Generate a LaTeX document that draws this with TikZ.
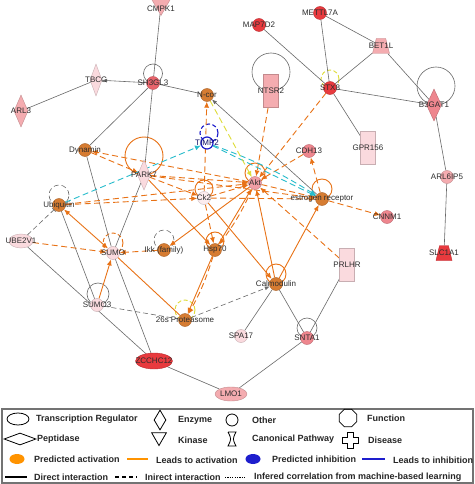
\documentclass[tikz,border=0pt]{standalone}
\usepackage{fontspec}
\setmainfont{Liberation Sans}
\usepackage{tikz}
\usetikzlibrary{arrows.meta, shapes.geometric, backgrounds, calc}
\definecolor{rednode}{RGB}{232,58,62}
\definecolor{coralnode}{RGB}{232,100,108}
\definecolor{pinknode}{RGB}{238,134,142}
\definecolor{rosenode}{RGB}{244,172,176}
\definecolor{palenode}{RGB}{250,218,222}
\definecolor{orgnode}{RGB}{214,124,50}
\definecolor{orgline}{RGB}{232,114,22}
\definecolor{grayline}{RGB}{105,105,105}
\definecolor{cyanline}{RGB}{38,188,204}
\definecolor{yelline}{RGB}{222,220,56}
\definecolor{blueline}{RGB}{30,30,205}
\definecolor{labtext}{RGB}{45,45,45}
\definecolor{legframe}{RGB}{115,115,115}

\begin{document}
\begin{tikzpicture}[
  x=1pt, y=-1pt,
  genelab/.style={font=\fontsize{8}{9}\selectfont, text=labtext, inner sep=0pt},
  legtext/.style={font=\bfseries\fontsize{9}{10}\selectfont, text=black!85,
                  anchor=west, inner sep=0pt},
  gene/.style={circle, fill=#1, draw=#1!80!black, line width=0.4pt,
               minimum size=13pt, inner sep=0pt},
  enzyme/.style={diamond, fill=#1, draw=#1!80!black, line width=0.4pt,
                 minimum width=14pt, minimum height=32pt, inner sep=0pt},
  gpcr/.style={rectangle, fill=#1, draw=#1!80!black, line width=0.4pt,
               minimum width=15pt, minimum height=33pt, inner sep=0pt},
  transporter/.style={trapezium, trapezium left angle=68,
                      trapezium right angle=68, trapezium stretches=true,
                      fill=#1, draw=#1!80!black,
                      line width=0.4pt, minimum width=17pt,
                      minimum height=15pt, inner sep=1pt},
  kinase/.style={regular polygon, regular polygon sides=3,
                 shape border rotate=180, fill=#1, draw=#1!80!black,
                 line width=0.4pt, minimum size=23pt, inner sep=0pt},
  treg/.style={ellipse, fill=#1, draw=#1!80!black, line width=0.4pt,
               minimum height=14pt, inner sep=0pt},
  direct/.style={draw=grayline, line width=0.6pt},
  directarr/.style={direct, -{Latex[length=5pt, width=4pt]}},
  indirect/.style={direct, dash pattern=on 5pt off 3pt},
  act/.style={draw=orgline, line width=0.9pt, -{Latex[length=6pt, width=5pt]}},
  actdash/.style={act, dash pattern=on 6pt off 3.5pt},
  corr/.style={draw=cyanline, line width=0.9pt, dash pattern=on 6pt off 3.5pt,
               -{Latex[length=6pt, width=5pt]}},
  yellcorr/.style={corr, draw=yelline},
  loopgray/.style={direct},
  loopgraydash/.style={indirect},
  looporg/.style={draw=orgline, line width=0.9pt},
  looporgdash/.style={looporg, dash pattern=on 4pt off 2.5pt},
  loopyel/.style={draw=yelline, line width=0.9pt, dash pattern=on 4pt off 2.5pt},
  loopblue/.style={draw=blueline, line width=1.1pt, dash pattern=on 4pt off 2.5pt},
]

\begin{scope}[on background layer]
  \fill[white] (0,0) rectangle (474,484);
\end{scope}
\useasboundingbox (0,0) rectangle (474,484);

% =================================================================
%  UPPER PART
% =================================================================
\node[kinase=rosenode, label={[genelab, yshift=-5pt]center:CMPK1}] (cmpk) at (161,4) {};
\node[gene=coralnode, label={[genelab]center:SH3GL3}] (sh) at (153,83) {};
\node[enzyme=palenode, minimum width=12pt, label={[genelab]center:TBCC}] (tbcc) at (96,80) {};
\node[enzyme=rosenode, label={[genelab]center:ARL3}] (arl3) at (21,111) {};
\node[gene=orgnode, label={[genelab]center:N-cor}] (ncor) at (207,95) {};
\node[circle, fill=white, draw=blueline, line width=1.2pt, minimum size=12pt,
      inner sep=0pt, label={[genelab, text=blueline!50!black]center:TIMP2}] (timp) at (207,143) {};
\node[gene=orgnode, label={[genelab]center:Dynamin}] (dyn) at (85,150) {};
\node[enzyme=palenode, minimum width=13pt, minimum height=30pt,
      label={[genelab]center:PARK7}] (park) at (144,175) {};

\node[gene=rednode, label={[genelab]center:MAP7D2}] (map) at (259,25) {};
\node[gene=rednode, label={[genelab]center:METTL7A}] (mettl) at (320,13) {};
\node[transporter=rosenode, label={[genelab]center:BET1L}] (bet) at (381,46) {};
\node[gpcr=rosenode, label={[genelab]center:NTSR2}] (ntsr) at (271,91) {};
\node[gene=rednode, label={[genelab]center:STX8}] (stx) at (330,88) {};
\node[gpcr=palenode, label={[genelab]center:GPR156}] (gpr) at (368,148) {};
\node[enzyme=pinknode, minimum width=15pt, label={[genelab]center:B3GAT1}] (b3g) at (434,105) {};
\node[gene=rosenode, label={[genelab]center:ARL6IP5}] (arl6) at (447,177) {};
\node[transporter=rednode, minimum width=16pt, label={[genelab]center:SLC1A1}] (slc) at (444,253) {};

% =================================================================
%  CENTRE
% =================================================================
\node[gene=palenode!50!white, label={[genelab]center:Ck2}] (ck) at (204,198) {};
\node[gene=pinknode!80!white, label={[genelab]center:Akt}] (akt) at (255,183) {};
\node[gene=orgnode, label={[genelab]center:estrogen receptor}] (er) at (322,199) {};
\node[gene=pinknode, label={[genelab]center:CDH13}] (cdh) at (309,151) {};
\node[gene=pinknode, label={[genelab]center:CNNM1}] (cnnm) at (387,217) {};

% =================================================================
%  LOWER PART
% =================================================================
\node[gene=orgnode, label={[genelab]center:Ubiquitin}] (ubq) at (59,205) {};
\node[treg=palenode, minimum width=24pt, label={[genelab]center:UBE2V1}] (ube) at (21,241) {};
\node[gene=palenode, label={[genelab]center:SUMO}] (sumo) at (113,253) {};
\node[gene=orgnode, label={[genelab]center:Ikk (family)}] (ikk) at (164,250) {};
\node[gene=orgnode, label={[genelab]center:Hsp70}] (hsp) at (215,250) {};
\node[gene=palenode, label={[genelab]center:SUMO3}] (sumo3) at (97,305) {};
\node[gene=orgnode, label={[genelab]center:26s Proteasome}] (prot) at (185,320) {};
\node[gene=orgnode, label={[genelab]center:Calmodulin}] (calm) at (276,284) {};
\node[gpcr=palenode, label={[genelab]center:PRLHR}] (prlhr) at (347,265) {};
\node[gene=palenode, label={[genelab]center:SPA17}] (spa) at (241,336) {};
\node[gene=pinknode, label={[genelab]center:SNTA1}] (snta) at (307,338) {};
\node[treg=rednode, minimum width=37pt, minimum height=16pt,
      label={[genelab]center:ZCCHC12}] (zcchc) at (154,361) {};
\node[treg=rosenode, minimum width=32pt, label={[genelab]center:LMO1}] (lmo) at (231,394) {};

% =================================================================
%  EDGES
% =================================================================
\begin{scope}[on background layer]
% self loops
\draw[loopgray] (sh) ++(0,-9.5) circle[radius=9.5pt];
\draw[loopgray] (ntsr) ++(0,-19) circle[radius=19pt];
\draw[loopgray] (b3g) ++(2,-19) circle[radius=19pt];
\draw[loopgray] (sumo3) ++(1,-11) circle[radius=11pt];
\draw[loopgray] (snta) ++(0,-10) circle[radius=10pt];
\draw[loopgraydash] (ubq) ++(0,-10) circle[radius=10pt];
\draw[loopgraydash] (ikk) ++(0,-10) circle[radius=10pt];
\draw[looporg] (park) ++(0,-19) circle[radius=19pt];
\draw[looporg] (akt) ++(0,-10) circle[radius=10pt];
\draw[looporg] (er) ++(0,-10) circle[radius=10pt];
\draw[looporg] (calm) ++(0,-10) circle[radius=10pt];
\draw[looporg] (hsp) ++(0,-9) circle[radius=9pt];
\draw[looporg] (ck) ++(0,-9) circle[radius=9pt];
\draw[looporgdash] (sumo) ++(0,-10) circle[radius=10pt];
\draw[loopyel] (stx) ++(0,-9) circle[radius=9pt];
\draw[loopyel] (prot) ++(0,-10) circle[radius=10pt];
\draw[loopblue] (timp) ++(2,-10) circle[radius=9pt];

% direct interactions
\draw[direct] (cmpk) -- (sh);
\draw[directarr] (sh) -- (tbcc);
\draw[direct] (tbcc) -- (arl3);
\draw[direct] (sh) -- (ncor);
\draw[direct] (sh) -- (dyn);
\draw[direct] (sh) -- (park);
\draw[direct] (park) -- (sumo);
\draw[direct] (dyn) -- (sumo);
\draw[direct] (sumo) -- (zcchc);
\draw[direct] (ube) -- (zcchc);
\draw[direct] (ubq) -- (sumo3);
\draw[directarr] (er) -- (ncor);
\draw[direct] (map) -- (stx);
\draw[direct] (mettl) -- (stx);
\draw[direct] (mettl) -- (bet);
\draw[direct] (bet) -- (stx);
\draw[direct] (bet) -- (b3g);
\draw[direct] (stx) -- (b3g);
\draw[direct] (stx) -- (gpr);
\draw[direct] (b3g) -- (arl6);
\draw[direct] (arl6) -- (slc);
\draw[direct] (calm) -- (spa);
\draw[direct] (calm) -- (snta);
\draw[direct] (prlhr) -- (snta);
\draw[direct] (snta) -- (lmo);
\draw[direct] (zcchc) -- (lmo);

% indirect interactions
\draw[indirect, -{Bar[width=5pt]}] (ube) -- (ubq);
\draw[indirect] (sumo3) -- (prot);
\draw[indirect, -{Latex[length=5pt, width=4pt]}] (prot) -- (calm);

% leads to activation, direct
\draw[act, {Latex[length=6pt, width=5pt]}-{Latex[length=6pt, width=5pt]}] (ubq) -- (sumo);
\draw[act] (sumo3) -- (sumo);
\draw[act, -] (sumo) -- (prot);
\draw[act] (hsp) -- (prot);
\draw[act] (park) -- (hsp);
\draw[act] (ck) -- (calm);
\draw[act] (akt) -- (ikk);
\draw[act] (hsp) -- (akt);
\draw[act] (calm) -- (akt);
\draw[act] (calm) -- (er);

% leads to activation, indirect
\draw[actdash] (ube) -- (sumo);
\draw[actdash] (ikk) -- (sumo);
\draw[actdash] (ubq) -- (akt);
\draw[actdash] (ubq) -- (ck);
\draw[actdash] (akt) -- (dyn);
\draw[actdash] (dyn) -- (park);
\draw[actdash] (park) -- (akt);
\draw[actdash] (park) -- (ck);
\draw[actdash] (park) -- (er);
\draw[actdash] (ck) -- (akt);
\draw[actdash] (ck) -- (er);
\draw[actdash] (ck) -- (ncor);
\draw[actdash] (ck) -- (hsp);
\draw[actdash] (akt) -- (er);
\draw[actdash] (akt) to[bend left=6] (hsp);
\draw[actdash] (hsp) to[bend left=6] (prot);
\draw[actdash] (ntsr) -- (akt);
\draw[actdash] (stx) -- (akt);
\draw[actdash] (cdh) -- (akt);
\draw[actdash] (er) -- (cdh);
\draw[actdash] (er) -- (cnnm);
\draw[actdash] (prlhr) -- (akt);

% correlations
\draw[corr] (ubq) -- (timp);
\draw[corr] (timp) -- (er);
\draw[corr] (timp) to[bend left=6] (er);
\draw[yellcorr] (ncor) -- (akt);
\end{scope}

% =================================================================
%  LEGEND
% =================================================================
\draw[draw=legframe, line width=1.2pt] (2,409) rectangle (473,483);

\node[ellipse, draw=black, line width=0.8pt, minimum width=22pt, minimum height=12pt,
      inner sep=0pt] (lgtreg) at (18,419) {};
\node[legtext] (lgtregt) at (36,419) {Transcription Regulator};
\node[diamond, draw=black, line width=0.8pt, minimum width=12pt, minimum height=20pt,
      inner sep=0pt] (lgenz) at (160,420) {};
\node[legtext] (lgenzt) at (178,420) {Enzyme};
\node[circle, draw=black, line width=0.8pt, minimum size=12pt, inner sep=0pt]
      (lgoth) at (232,420) {};
\node[legtext] (lgotht) at (252,420) {Other};
\node[regular polygon, regular polygon sides=8, draw=black, line width=0.8pt,
      minimum size=19pt, inner sep=0pt] (lgfun) at (348,418) {};
\node[legtext] (lgfunt) at (367,418) {Function};

\node[diamond, draw=black, line width=0.8pt, minimum width=32pt, minimum height=12pt,
      inner sep=0pt] (lgpep) at (20,439) {};
\node[legtext] (lgpept) at (37,439) {Peptidase};
\node[regular polygon, regular polygon sides=3, shape border rotate=180, draw=black,
      line width=0.8pt, minimum size=17pt, inner sep=0pt] (lgkin) at (159,437) {};
\node[legtext] (lgkint) at (178,440) {Kinase};
\draw[black, line width=0.8pt] (228,432) -- (236,432) .. controls (232.5,439) .. (236,446)
      -- (228,446) .. controls (231.5,439) .. (228,432);
\node[legtext] (lgcant) at (252,439) {Canonical Pathway};
\draw[black, line width=0.8pt] (347,432) -- (353,432) -- (353,437) -- (358,437) -- (358,443)
      -- (353,443) -- (353,448) -- (347,448) -- (347,443) -- (342,443) -- (342,437)
      -- (347,437) -- cycle;
\node[legtext] (lgdist) at (368,440) {Disease};

\node[ellipse, fill=orange!85!yellow, minimum width=15pt, minimum height=10pt,
      inner sep=0pt] (lgact) at (17,459) {};
\node[legtext] (lgactt) at (34,459) {Predicted activation};
\draw[draw=orange!85!yellow, line width=1.5pt] (127,459) -- (148,459);
\node[legtext] (lgleadt) at (156,460) {Leads to activation};
\node[ellipse, fill=blueline, minimum width=15pt, minimum height=10pt,
      inner sep=0pt] (lginh) at (253,459) {};
\node[legtext] (lginht) at (272,459) {Predicted inhibition};
\draw[draw=blueline, line width=1.5pt] (362,459) -- (385,459);
\node[legtext] (lgleadit) at (393,460) {Leads to inhibition};

\draw[black, line width=1.2pt] (5,477) -- (27,477);
\node[legtext] (lgdirt) at (34,477) {Direct interaction};
\draw[black, line width=1.2pt, dash pattern=on 4pt off 3pt] (115,477) -- (137,477);
\node[legtext] (lgindt) at (145,477) {Inirect interaction};
\draw[black, line width=0.8pt, dash pattern=on 1.2pt off 1.2pt] (225,477) -- (245,477);
\node[legtext] (lginft) at (254,477) {Infered correlation from machine-based learning};

\end{tikzpicture}
\end{document}
